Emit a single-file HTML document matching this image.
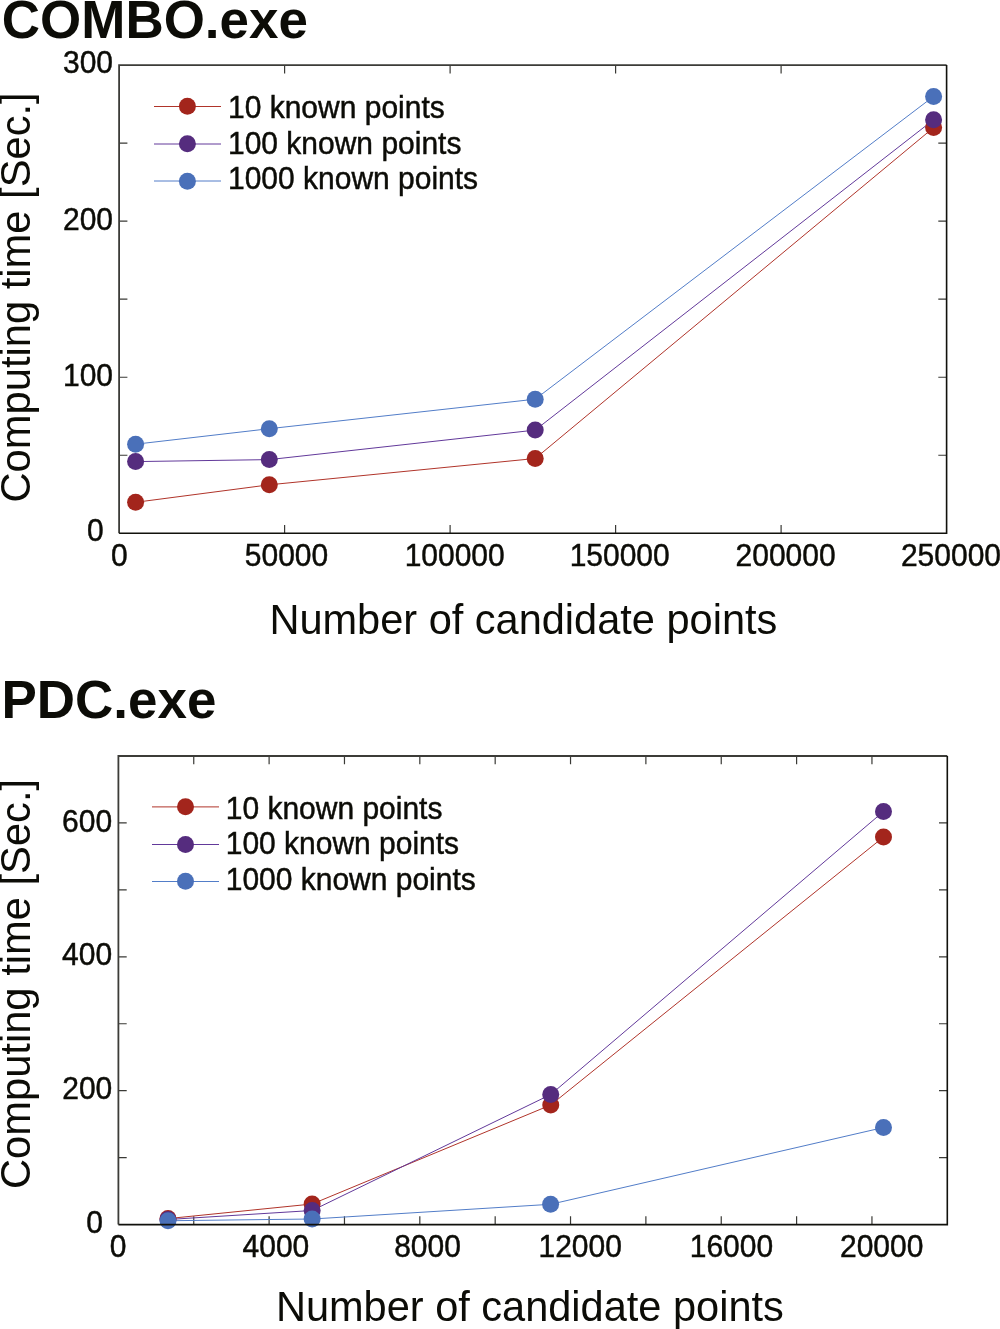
<!DOCTYPE html>
<html><head><meta charset="utf-8"><title>COMBO.exe / PDC.exe computing time</title>
<style>
html,body{margin:0;padding:0;background:#fff;}
body{width:1000px;height:1329px;overflow:hidden;}
svg{display:block;}
text{font-family:"Liberation Sans",Arial,Helvetica,sans-serif;fill:#0c0c07;}
.t{font-weight:bold;font-size:53px;}
.n{font-size:30px;stroke:#0c0c07;stroke-width:0.45px;}
.a{font-size:41.7px;}
.ax{font-size:41.55px;}
.tk{stroke:#3a3a36;stroke-width:1.2;fill:none;}
.f1{stroke:#3c3c38;stroke-width:1.8;fill:none;}
.f2{stroke:#11110c;stroke-width:1.6;fill:none;}
.lr{stroke:#b0342a;stroke-width:1;fill:none;}
.lp{stroke:#62399a;stroke-width:1;fill:none;}
.lb{stroke:#527dc8;stroke-width:1;fill:none;}
.mr{fill:#a3251c;}
.mp{fill:#552c7e;}
.mb{fill:#4a70b9;}
</style></head>
<body>
<svg width="1000" height="1329" viewBox="0 0 1000 1329">
<text class="t" transform="translate(1.8,38.2) scale(1,1.015)">COMBO.exe</text>
<path class="tk" d="M119.1 455.27h8.3M946.6 455.27h-8.3M119.1 377.23h8.3M946.6 377.23h-8.3M119.1 299.20h8.3M946.6 299.20h-8.3M119.1 221.17h8.3M946.6 221.17h-8.3M119.1 143.13h8.3M946.6 143.13h-8.3M284.60 533.3v-8.3M284.60 65.1v8.3M450.10 533.3v-8.3M450.10 65.1v8.3M615.60 533.3v-8.3M615.60 65.1v8.3M781.10 533.3v-8.3M781.10 65.1v8.3"/>
<text class="n" text-anchor="end" transform="translate(113,73.3) scale(1,1.04)">300</text>
<text class="n" text-anchor="end" transform="translate(113,229.9) scale(1,1.04)">200</text>
<text class="n" text-anchor="end" transform="translate(113,385.5) scale(1,1.04)">100</text>
<text class="n" text-anchor="end" transform="translate(103.7,541.2) scale(1,1.04)">0</text>
<text class="n" text-anchor="end" transform="translate(127.7,565.65) scale(1,1.04)">0</text>
<text class="n" text-anchor="end" transform="translate(328.2,565.65) scale(1,1.04)">50000</text>
<text class="n" text-anchor="end" transform="translate(504.7,565.65) scale(1,1.04)">100000</text>
<text class="n" text-anchor="end" transform="translate(669.7,565.65) scale(1,1.04)">150000</text>
<text class="n" text-anchor="end" transform="translate(835.6,565.65) scale(1,1.04)">200000</text>
<text class="n" text-anchor="end" transform="translate(1001,565.65) scale(1,1.04)">250000</text>
<text class="a ax" transform="translate(269.4,634) scale(1,1.03)">Number of candidate points</text>
<text class="a" transform="translate(29.9,502.5) rotate(-90) scale(1,1.03)">Computing time [Sec.]</text>
<path class="lr" d="M154 106.5H221"/>
<path class="lp" d="M154 144.0H221"/>
<path class="lb" d="M154 181.0H221"/>
<circle class="mr" cx="187.4" cy="106.2" r="8.5"/>
<circle class="mp" cx="187.4" cy="143.8" r="8.5"/>
<circle class="mb" cx="187.4" cy="181.2" r="8.5"/>
<text class="n" text-anchor="start" transform="translate(228,118.1) scale(1,1.04)">10 known points</text>
<text class="n" text-anchor="start" transform="translate(228,153.7) scale(1,1.04)">100 known points</text>
<text class="n" text-anchor="start" transform="translate(228,188.9) scale(1,1.04)">1000 known points</text>
<polyline class="lr" points="135.6,502.3 269.3,484.8 535.2,458.5 933.6,127.6"/>
<polyline class="lp" points="135.6,461.6 269.3,459.6 535.2,430.1 933.6,119.75"/>
<polyline class="lb" points="135.6,444.2 269.3,428.7 535.2,399.2 933.6,96.4"/>
<circle class="mr" cx="135.6" cy="502.3" r="8.5"/>
<circle class="mr" cx="269.3" cy="484.8" r="8.5"/>
<circle class="mr" cx="535.2" cy="458.5" r="8.5"/>
<circle class="mr" cx="933.6" cy="127.6" r="8.5"/>
<circle class="mp" cx="135.6" cy="461.6" r="8.5"/>
<circle class="mp" cx="269.3" cy="459.6" r="8.5"/>
<circle class="mp" cx="535.2" cy="430.1" r="8.5"/>
<circle class="mp" cx="933.6" cy="119.75" r="8.5"/>
<circle class="mb" cx="135.6" cy="444.2" r="8.5"/>
<circle class="mb" cx="269.3" cy="428.7" r="8.5"/>
<circle class="mb" cx="535.2" cy="399.2" r="8.5"/>
<circle class="mb" cx="933.6" cy="96.4" r="8.5"/>
<path class="f1" d="M119.1 533.3V65.1H946.6"/>
<path class="f2" d="M119.1 533.3H946.6V65.1"/>
<text class="t" transform="translate(1.5,718.0) scale(1,1.015)">PDC.exe</text>
<path class="tk" d="M118.4 1157.66h8.3M947.3 1157.66h-8.3M118.4 1090.71h8.3M947.3 1090.71h-8.3M118.4 1023.77h8.3M947.3 1023.77h-8.3M118.4 956.83h8.3M947.3 956.83h-8.3M118.4 889.88h8.3M947.3 889.88h-8.3M118.4 822.94h8.3M947.3 822.94h-8.3M193.75 1224.6v-8.3M193.75 756.0v8.3M269.11 1224.6v-8.3M269.11 756.0v8.3M344.47 1224.6v-8.3M344.47 756.0v8.3M419.82 1224.6v-8.3M419.82 756.0v8.3M495.18 1224.6v-8.3M495.18 756.0v8.3M570.53 1224.6v-8.3M570.53 756.0v8.3M645.88 1224.6v-8.3M645.88 756.0v8.3M721.24 1224.6v-8.3M721.24 756.0v8.3M796.60 1224.6v-8.3M796.60 756.0v8.3M871.95 1224.6v-8.3M871.95 756.0v8.3"/>
<text class="n" text-anchor="end" transform="translate(112.1,831.9) scale(1,1.04)">600</text>
<text class="n" text-anchor="end" transform="translate(112.1,965.4) scale(1,1.04)">400</text>
<text class="n" text-anchor="end" transform="translate(112.3,1099.2) scale(1,1.04)">200</text>
<text class="n" text-anchor="end" transform="translate(103.0,1233.0) scale(1,1.04)">0</text>
<text class="n" text-anchor="end" transform="translate(126.5,1257.45) scale(1,1.04)">0</text>
<text class="n" text-anchor="end" transform="translate(309.3,1257.45) scale(1,1.04)">4000</text>
<text class="n" text-anchor="end" transform="translate(460.9,1257.45) scale(1,1.04)">8000</text>
<text class="n" text-anchor="end" transform="translate(621.9,1257.45) scale(1,1.04)">12000</text>
<text class="n" text-anchor="end" transform="translate(773.1,1257.45) scale(1,1.04)">16000</text>
<text class="n" text-anchor="end" transform="translate(923.4,1257.45) scale(1,1.04)">20000</text>
<text class="a ax" transform="translate(275.9,1320.8) scale(1,1.03)">Number of candidate points</text>
<text class="a" transform="translate(29.9,1189.1) rotate(-90) scale(1,1.03)">Computing time [Sec.]</text>
<path class="lr" d="M152 806.9H219"/>
<path class="lp" d="M152 844.5H219"/>
<path class="lb" d="M152 881.5H219"/>
<circle class="mr" cx="185.5" cy="806.8" r="8.5"/>
<circle class="mp" cx="185.5" cy="844.5" r="8.5"/>
<circle class="mb" cx="185.5" cy="881.3" r="8.5"/>
<text class="n" text-anchor="start" transform="translate(225.7,819) scale(1,1.04)">10 known points</text>
<text class="n" text-anchor="start" transform="translate(225.7,854.2) scale(1,1.04)">100 known points</text>
<text class="n" text-anchor="start" transform="translate(225.7,889.6) scale(1,1.04)">1000 known points</text>
<polyline class="lr" points="168,1218.6 312.15,1204 550.75,1105 883.5,837"/>
<polyline class="lp" points="168,1219.5 312.15,1210.5 550.75,1094.5 883.5,811.5"/>
<polyline class="lb" points="168,1220.75 312.15,1219 550.6,1204.3 883.5,1127.5"/>
<circle class="mr" cx="168" cy="1218.6" r="8.5"/>
<circle class="mr" cx="312.15" cy="1204" r="8.5"/>
<circle class="mr" cx="550.75" cy="1105" r="8.5"/>
<circle class="mr" cx="883.5" cy="837" r="8.5"/>
<circle class="mp" cx="168" cy="1219.5" r="8.5"/>
<circle class="mp" cx="312.15" cy="1210.5" r="8.5"/>
<circle class="mp" cx="550.75" cy="1094.5" r="8.5"/>
<circle class="mp" cx="883.5" cy="811.5" r="8.5"/>
<circle class="mb" cx="168" cy="1220.75" r="8.5"/>
<circle class="mb" cx="312.15" cy="1219" r="8.5"/>
<circle class="mb" cx="550.6" cy="1204.3" r="8.5"/>
<circle class="mb" cx="883.5" cy="1127.5" r="8.5"/>
<path class="f1" d="M118.4 1224.6V756.0H947.3"/>
<path class="f2" d="M118.4 1224.6H947.3V756.0"/>
</svg>
</body></html>
